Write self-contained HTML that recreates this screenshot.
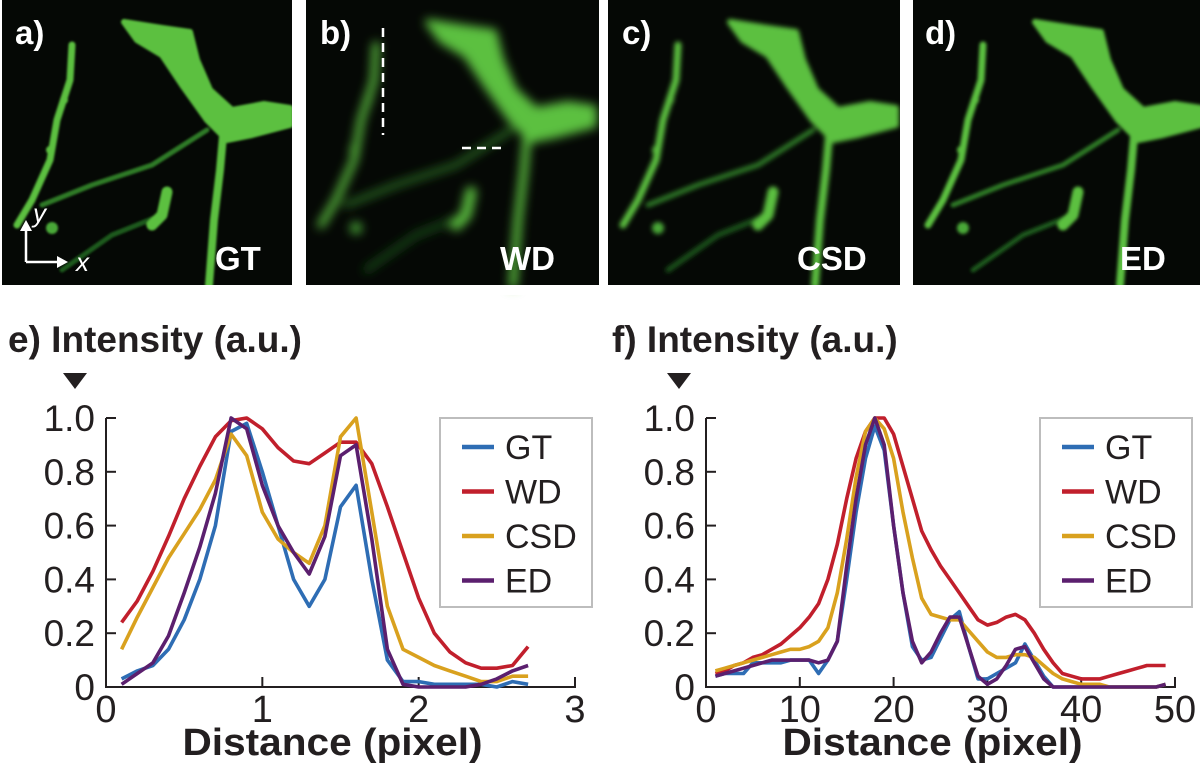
<!DOCTYPE html>
<html><head><meta charset="utf-8"><style>
html,body{margin:0;padding:0;background:#fff;}
svg{display:block;}
text{font-family:"Liberation Sans",sans-serif;}
</style></head><body>
<svg id="s" width="1200" height="773" viewBox="0 0 1200 773" xmlns="http://www.w3.org/2000/svg">
<defs>
<filter id="b1" x="-10%" y="-10%" width="120%" height="120%"><feGaussianBlur stdDeviation="1"/></filter>
<filter id="b2" x="-10%" y="-10%" width="120%" height="120%"><feGaussianBlur stdDeviation="5"/></filter>
<filter id="b3" x="-10%" y="-10%" width="120%" height="120%"><feGaussianBlur stdDeviation="2.4"/></filter>
<filter id="b4" x="-10%" y="-10%" width="120%" height="120%"><feGaussianBlur stdDeviation="1.6"/></filter>
<g id="neuron" stroke-linecap="round" stroke-linejoin="round" fill="none">
  <path d="M40 205 L90 185 L150 165 L205 130" stroke="#2f7a28" stroke-width="5"/>
  <path d="M60 270 L110 235 L160 215" stroke="#1f5a1c" stroke-width="5"/>
  <path d="M165 192 L160 215 L150 225" stroke="#5cc040" stroke-width="11"/>
  <circle cx="50" cy="228" r="6" fill="#4aa838"/>
  <path d="M70 45 L68 80 L55 120 L48 160 L30 200 L15 225" stroke="#5cc040" stroke-width="7"/>
  <circle cx="62" cy="100" r="4" fill="#5cc040"/><circle cx="48" cy="150" r="4" fill="#5cc040"/>
  <polygon points="122,22 160,28 188,32 195,60 208,90 230,110 262,104 288,108 288,125 250,135 225,140 205,120 180,85 160,55 135,40" fill="#5cc040" stroke="#5cc040" stroke-width="6"/>
  <path d="M222 125 L218 170 L212 220 L207 285" stroke="#5cc040" stroke-width="8"/>
</g>
</defs>
<rect x="2" y="0" width="290" height="285" fill="#050805"/>
<rect x="306" y="0" width="293" height="285" fill="#050805"/>
<rect x="608" y="0" width="292" height="285" fill="#050805"/>
<rect x="913" y="0" width="287" height="285" fill="#050805"/>
<g transform="translate(2,0)" filter="url(#b1)"><use href="#neuron"/></g>
<g transform="translate(306,0)" filter="url(#b2)"><use href="#neuron"/></g>
<g transform="translate(608,0)" filter="url(#b3)"><use href="#neuron"/></g>
<g transform="translate(913,0)" filter="url(#b4)"><use href="#neuron"/></g>
<rect x="292" y="0" width="14" height="290" fill="#fff"/>
<rect x="599" y="0" width="9" height="290" fill="#fff"/>
<rect x="900" y="0" width="13" height="290" fill="#fff"/>
<rect x="0" y="285" width="1200" height="10" fill="#fff"/>
<g fill="#fff" font-weight="bold" font-size="33">
<text x="15" y="44">a)</text><text x="320" y="44">b)</text><text x="622" y="44">c)</text><text x="925" y="44">d)</text>
<text x="215" y="270">GT</text><text x="500" y="270">WD</text><text x="797" y="270">CSD</text><text x="1120" y="270">ED</text>
</g>
<g stroke="#fff" stroke-width="2.5" fill="none">
<path d="M26 262 V226 M26 262 H60"/>
<path d="M383 28 V135" stroke-dasharray="9,6"/>
<path d="M462 148 H505" stroke-dasharray="9,6"/>
</g>
<path d="M26 220 L20 231 L32 231Z M68 262 L57 256 L57 268Z" fill="#fff"/>
<text x="33" y="222" fill="#fff" font-size="26" font-style="italic">y</text>
<text x="76" y="271" fill="#fff" font-size="26" font-style="italic">x</text>
<g id="charts"></g>
</svg>
<script>
const NS="http://www.w3.org/2000/svg";
const C=document.getElementById('charts');
function el(t,a,txt){const e=document.createElementNS(NS,t);for(const k in a)e.setAttribute(k,a[k]);if(txt!==undefined)e.textContent=txt;C.appendChild(e);return e;}
const cols={GT:'#2e6db4',WD:'#c11f2c',CSD:'#d9a11e',ED:'#5b1f6e'};
function chart(o){
  const x0=o.x0,x1=o.x1,y0=687,y1=418;
  const sx=v=>x0+(v-o.xmin)/(o.xmax-o.xmin)*(x1-x0);
  const sy=v=>y0-v*(y0-y1);
  el('text',{x:o.tx,y:352,'font-size':37,'font-weight':'bold',fill:'#231f20'},o.title);
  el('path',{d:`M${o.tx+55} 373 L${o.tx+79} 373 L${o.tx+67} 389Z`,fill:'#231f20'});
  el('path',{d:`M${x0} ${y1} V${y0} H${x1} V${y0-10}`,stroke:'#231f20','stroke-width':2,fill:'none'});
  [0.2,0.4,0.6,0.8,1.0].forEach(v=>el('path',{d:`M${x0} ${sy(v)} h10`,stroke:'#231f20','stroke-width':2}));
  o.xt.forEach(v=>{ if(v!==o.xmin&&v!==o.xmax) el('path',{d:`M${sx(v)} ${y0} v-10`,stroke:'#231f20','stroke-width':2});
    el('text',{x:sx(v),y:722,'font-size':38,'text-anchor':'middle',fill:'#231f20'},String(v));});
  [['0',0],['0.2',.2],['0.4',.4],['0.6',.6],['0.8',.8],['1.0',1]].forEach(([t,v])=>el('text',{x:x0-11,y:sy(v)+13,'font-size':37,'text-anchor':'end',fill:'#231f20'},t));
  el('text',{x:(x0+x1)/2-8,y:755,'font-size':38,'font-weight':'bold','text-anchor':'middle',fill:'#231f20',textLength:300,lengthAdjust:'spacingAndGlyphs'},'Distance (pixel)');
  ['GT','WD','CSD','ED'].forEach(k=>{
    const d=o.data[k];const pts=d.map((v,i)=>sx(o.xs[i]).toFixed(1)+','+sy(v).toFixed(1)).join(' ');
    el('polyline',{points:pts,fill:'none',stroke:cols[k],'stroke-width':3.6,'stroke-linejoin':'round'});
  });
  const lx=o.lx;
  el('rect',{x:lx,y:418,width:152,height:189,fill:'#fff',stroke:'#bdbdbd','stroke-width':2});
  ['GT','WD','CSD','ED'].forEach((k,i)=>{const y=447+i*44.5;
    el('path',{d:`M${lx+22} ${y} h32`,stroke:cols[k],'stroke-width':4.5});
    el('text',{x:lx+65,y:y+12,'font-size':34,fill:'#231f20'},k);});
}
const xe=[];for(let i=1;i<=27;i++)xe.push(i/10);
chart({x0:106,x1:575,xmin:0,xmax:3,xt:[0,1,2,3],tx:8,lx:440,title:'e) Intensity (a.u.)',xs:xe,data:{
WD:[0.24,0.32,0.43,0.56,0.7,0.82,0.93,0.99,1.0,0.96,0.89,0.84,0.83,0.87,0.91,0.91,0.83,0.67,0.5,0.33,0.2,0.13,0.09,0.07,0.07,0.08,0.15],
CSD:[0.14,0.26,0.37,0.48,0.57,0.66,0.77,0.94,0.86,0.65,0.55,0.5,0.46,0.6,0.93,1.0,0.65,0.3,0.14,0.11,0.08,0.06,0.04,0.02,0.02,0.04,0.04],
GT:[0.03,0.06,0.08,0.14,0.25,0.4,0.6,0.95,0.98,0.8,0.6,0.4,0.3,0.4,0.67,0.75,0.4,0.1,0.02,0.02,0.01,0.01,0.01,0.01,0.0,0.02,0.01],
ED:[0.01,0.05,0.09,0.19,0.35,0.52,0.72,1.0,0.96,0.75,0.6,0.5,0.42,0.56,0.86,0.9,0.55,0.14,0.01,0,0,0,0,0.01,0.03,0.06,0.08]}});
const xf=[];for(let i=1;i<=49;i++)xf.push(i);
const z12=Array(12).fill(0);
chart({x0:706,x1:1175,xmin:0,xmax:50,xt:[0,10,20,30,40,50],tx:612,lx:1040,title:'f) Intensity (a.u.)',xs:xf,data:{
WD:[0.05,0.06,0.08,0.09,0.11,0.12,0.14,0.16,0.19,0.22,0.26,0.31,0.4,0.53,0.7,0.85,0.95,1.0,1.0,0.94,0.82,0.7,0.58,0.51,0.45,0.4,0.35,0.3,0.25,0.23,0.24,0.26,0.27,0.25,0.2,0.14,0.09,0.05,0.04,0.03,0.03,0.03,0.04,0.05,0.06,0.07,0.08,0.08,0.08],
CSD:[0.06,0.07,0.08,0.09,0.1,0.11,0.12,0.13,0.14,0.14,0.15,0.17,0.22,0.35,0.55,0.78,0.95,1.0,0.96,0.85,0.65,0.48,0.33,0.27,0.26,0.25,0.25,0.21,0.17,0.13,0.11,0.11,0.12,0.12,0.11,0.08,0.05,0.03,0.02,0.01,0.01,0.01,0,0,0,0,0,0,0.01],
GT:[0.04,0.05,0.05,0.05,0.09,0.09,0.09,0.09,0.1,0.1,0.1,0.05,0.1,0.17,0.4,0.65,0.85,0.97,0.88,0.6,0.35,0.15,0.1,0.11,0.18,0.25,0.28,0.15,0.03,0.03,0.05,0.07,0.09,0.16,0.1,0.04].concat(z12,[0.01]),
ED:[0.04,0.05,0.06,0.07,0.08,0.09,0.1,0.1,0.1,0.1,0.1,0.09,0.1,0.17,0.45,0.7,0.9,1.0,0.9,0.6,0.35,0.17,0.09,0.13,0.2,0.26,0.26,0.15,0.04,0.01,0.03,0.08,0.14,0.15,0.09,0.03].concat(z12,[0.01])}});
</script>
</body></html>
